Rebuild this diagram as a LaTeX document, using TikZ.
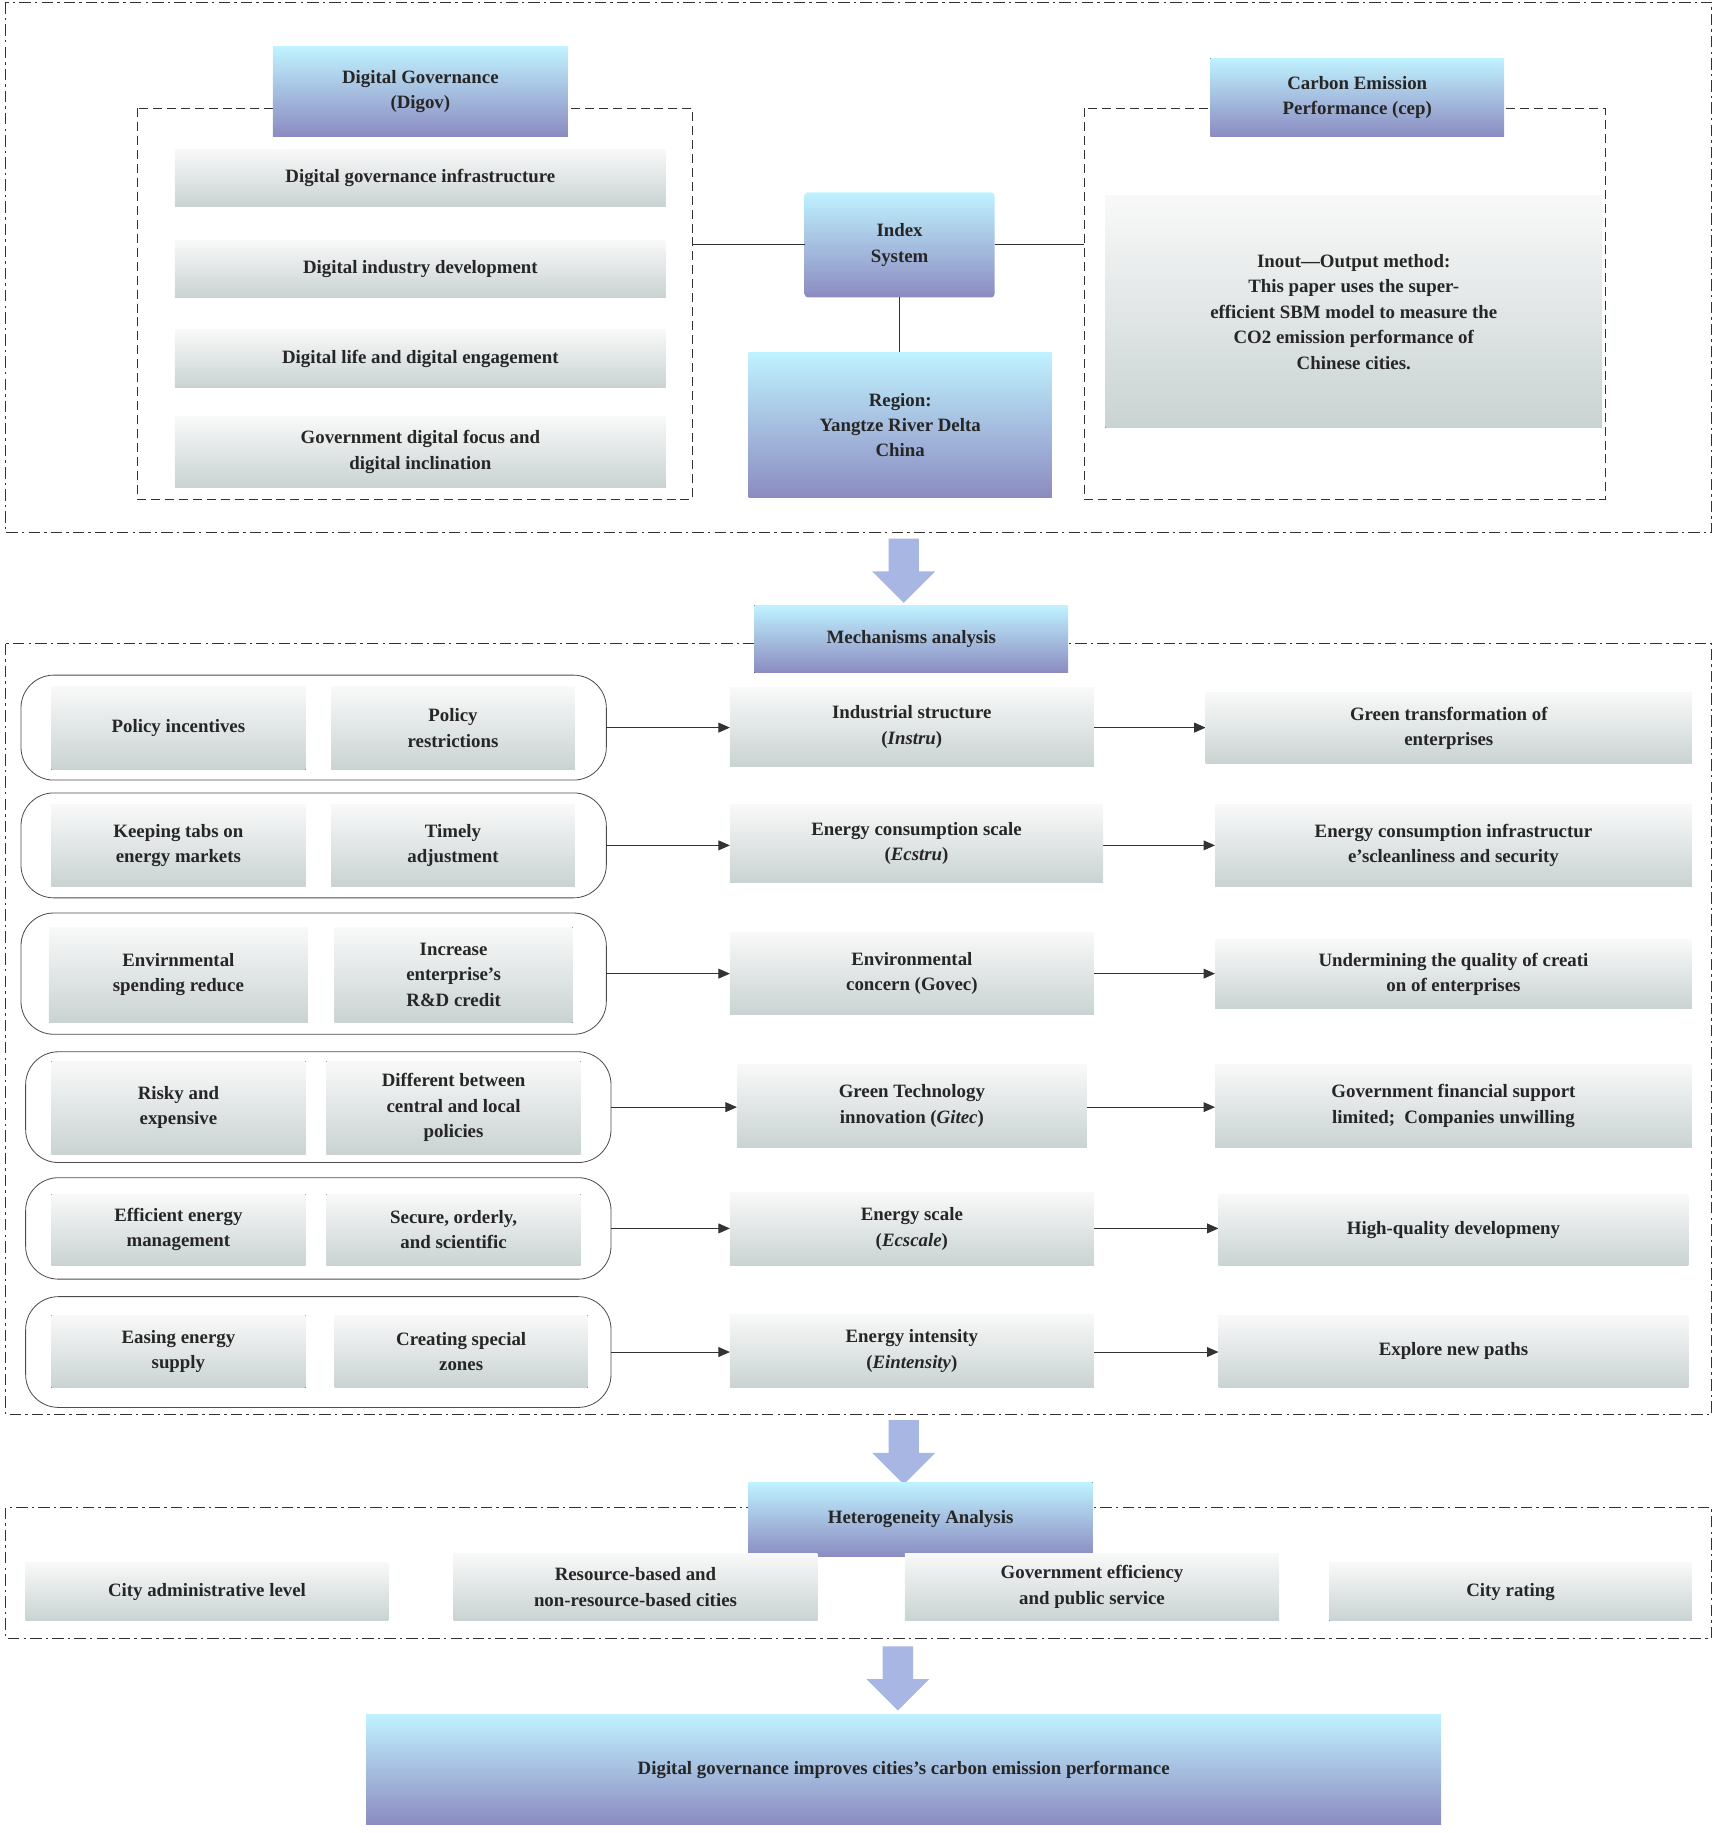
\documentclass[tikz,border=0pt]{standalone}
\usepackage{fontspec}
\setmainfont{Liberation Serif}
\usetikzlibrary{arrows.meta}
\begin{document}
\begin{tikzpicture}[x=0.05cm,y=-0.05cm,
 txt/.style={font=\bfseries\fontsize{23}{31}\selectfont,align=center,text=black!85},
 blue/.style={top color=blue!20!cyan!25!white,bottom color=blue!30!gray!70!white,draw=none},
 lite/.style={top color=gray!5,bottom color=teal!20!gray!35,draw=none},
 ddot/.style={draw=gray!40!black,line width=1.3pt,dash pattern=on 14pt off 5pt on 3pt off 5pt},
 dsh/.style={draw=gray!40!black,line width=1.2pt,dash pattern=on 11pt off 6pt},
 conn/.style={draw=black!80,line width=1.2pt},
 arr/.style={conn,-{Triangle[length=14pt,width=12pt]}},
 big/.style={fill=cyan!40!blue!35!white,draw=none}]
\useasboundingbox (0,0) rectangle (1475,1572);
\newcommand{\bx}[6]{\fill[#1] (#2,#3) rectangle (#4,#5); \node[txt] at ({(#2+#4)/2},{(#3+#5)/2}) {#6};}
\newcommand{\bigarrow}[2]{\fill[big] (#1-13,#2) -- (#1+13,#2) -- (#1+13,#2+28) -- (#1+27,#2+28) -- (#1,#2+55) -- (#1-27,#2+28) -- (#1-13,#2+28) -- cycle;}
% top section
\draw[ddot] (5,2) rectangle (1468,457);
\draw[dsh] (118,93) rectangle (594,428);
\draw[dsh] (930,93) rectangle (1377,428);
\bx{blue}{234}{40}{487}{117}{Digital Governance\\(Digov)}
\bx{lite}{150}{128}{571}{177}{Digital governance infrastructure}
\bx{lite}{150}{206}{571}{255}{Digital industry development}
\bx{lite}{150}{283}{571}{332}{Digital life and digital engagement}
\bx{lite}{150}{357}{571}{418}{Government digital focus and\\digital inclination}
\bx{blue}{1038}{50}{1290}{117}{Carbon Emission\\Performance (cep)}
\bx{lite}{948}{168}{1374}{367}{Inout---Output method:\\This paper uses the super-\\efficient SBM model to measure the\\CO2 emission performance of\\Chinese cities.}
\shade[blue,rounded corners=4pt] (690,165) rectangle (853,255);
\node[txt] (idx) at (771.5,210) {Index\\System};
\bx{blue}{642}{302}{902}{427}{Region:\\Yangtze River Delta\\China}
\coordinate (iL) at (690,210); \coordinate (iR) at (853,210);
\coordinate (iB) at (771.5,255); \coordinate (rT) at (771.5,302);
\coordinate (dL) at (594,210); \coordinate (dR) at (930,210);
\draw[conn] (dL) -- (iL); \draw[conn] (iR) -- (dR); \draw[conn] (iB) -- (rT);
\bigarrow{775}{462}
% mechanisms
\draw[ddot] (5,552) rectangle (1468,1213);
\bx{blue}{647}{519}{916}{577}{Mechanisms analysis}
\newcommand{\row}[9]{%
 \draw[gray!60!black,line width=1pt,rounded corners=40pt] (#1,#2) rectangle (#3,#4);
 \draw[arr] (#3,{(#2+#4)/2}) -- (#5,{(#2+#4)/2});
 \draw[arr] (#6,{(#2+#4)/2}) -- (#7,{(#2+#4)/2});}
\row{18}{579}{520}{669}{626}{938}{1034}{}{}
\row{18}{680}{520}{770}{626}{946}{1042}{}{}
\row{18}{783}{520}{887}{626}{938}{1042}{}{}
\row{22}{902}{524}{997}{632}{932}{1042}{}{}
\row{22}{1010}{524}{1097}{626}{938}{1045}{}{}
\row{22}{1112}{524}{1207}{626}{938}{1045}{}{}
\bx{lite}{44}{589}{262}{660}{Policy incentives}
\bx{lite}{284}{589}{493}{660}{Policy\\restrictions}
\bx{lite}{626}{590}{938}{657}{Industrial structure\\(\textit{Instru})}
\bx{lite}{1034}{594}{1451}{655}{Green transformation of\\enterprises}
\bx{lite}{44}{690}{262}{760}{Keeping tabs on\\energy markets}
\bx{lite}{284}{690}{493}{760}{Timely\\adjustment}
\bx{lite}{626}{690}{946}{757}{Energy consumption scale\\(\textit{Ecstru})}
\bx{lite}{1042}{690}{1451}{760}{Energy consumption infrastructur\\e'scleanliness and security}
\bx{lite}{42}{795}{264}{877}{Envirnmental\\spending reduce}
\bx{lite}{287}{795}{491}{877}{Increase\\enterprise's\\R\&D credit}
\bx{lite}{626}{800}{938}{870}{Environmental\\concern (Govec)}
\bx{lite}{1042}{806}{1451}{865}{Undermining the quality of creati\\on of enterprises}
\bx{lite}{44}{910}{262}{990}{Risky and\\expensive}
\bx{lite}{280}{910}{498}{990}{Different between\\central and local\\policies}
\bx{lite}{632}{913}{932}{984}{Green Technology\\innovation (\textit{Gitec})}
\bx{lite}{1042}{913}{1451}{984}{Government financial support\\limited;\ \ Companies unwilling}
\bx{lite}{44}{1024}{262}{1085}{Efficient energy\\management}
\bx{lite}{280}{1024}{498}{1085}{Secure, orderly,\\and scientific}
\bx{lite}{626}{1023}{938}{1085}{Energy scale\\(\textit{Ecscale})}
\bx{lite}{1045}{1024}{1448}{1085}{High-quality developmeny}
\bx{lite}{44}{1128}{262}{1190}{Easing energy\\supply}
\bx{lite}{287}{1128}{504}{1190}{Creating special\\zones}
\bx{lite}{626}{1127}{938}{1190}{Energy intensity\\(\textit{Eintensity})}
\bx{lite}{1045}{1128}{1448}{1190}{Explore new paths}
\bigarrow{775}{1218}
% heterogeneity
\draw[ddot] (5,1293) rectangle (1468,1405);
\bx{blue}{642}{1271}{937}{1335}{Heterogeneity Analysis}
\bx{lite}{22}{1340}{333}{1390}{City administrative level}
\bx{lite}{389}{1332}{701}{1390}{Resource-based and\\non-resource-based cities}
\bx{lite}{776}{1332}{1097}{1390}{Government efficiency\\and public service}
\bx{lite}{1140}{1340}{1451}{1390}{City rating}
\bigarrow{770}{1412}
\bx{blue}{314}{1470}{1236}{1565}{Digital governance improves cities's carbon emission performance}
\end{tikzpicture}
\end{document}
